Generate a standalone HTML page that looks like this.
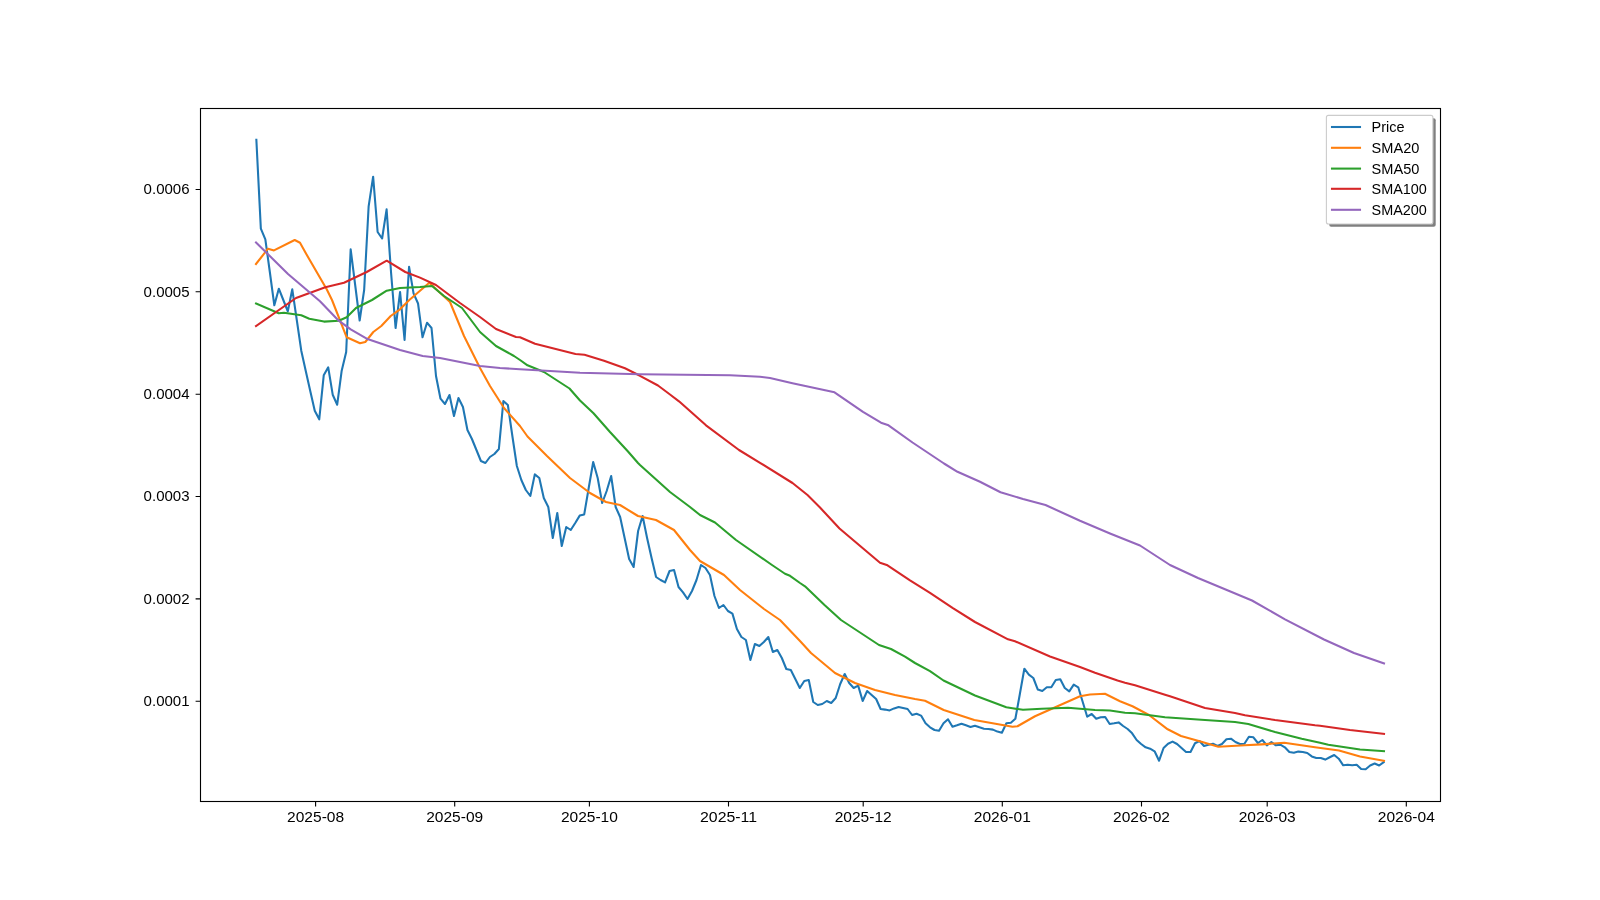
<!DOCTYPE html><html><head><meta charset="utf-8"><style>html,body{margin:0;padding:0;background:#fff;}svg{display:block;} text{filter:grayscale(1)}</style></head><body><svg width="1600" height="900" viewBox="0 0 1600 900">
<rect x="0" y="0" width="1600" height="900" fill="#ffffff"/>
<defs><clipPath id="ax"><rect x="200" y="108" width="1240" height="693"/></clipPath></defs>
<g clip-path="url(#ax)" fill="none" stroke-width="2.08" stroke-linejoin="round" stroke-linecap="square">
<path d="M256.36,139.80 L260.85,228.70 L265.34,239.30 L269.83,272.00 L274.32,305.30 L278.82,288.70 L283.31,300.00 L287.80,311.30 L292.29,289.30 L296.78,320.00 L301.27,350.70 L305.76,371.00 L310.25,391.00 L314.75,410.70 L319.24,419.30 L323.73,375.30 L328.22,367.30 L332.71,394.70 L337.20,404.70 L341.69,370.70 L346.18,352.00 L350.67,249.30 L355.17,285.00 L359.66,320.50 L364.15,290.00 L368.64,206.30 L373.13,176.70 L377.62,232.00 L382.11,238.50 L386.60,209.30 L391.09,273.00 L395.59,328.00 L400.08,292.00 L404.57,340.00 L409.06,266.70 L413.55,293.30 L418.04,303.50 L422.53,337.30 L427.02,322.70 L431.52,328.00 L436.01,376.00 L440.50,398.70 L444.99,404.00 L449.48,395.00 L453.97,416.00 L458.46,398.00 L462.95,407.00 L467.44,430.00 L471.94,439.00 L476.43,450.00 L480.92,461.00 L485.41,463.00 L489.90,457.00 L494.39,454.00 L498.88,449.00 L503.37,401.00 L507.86,405.00 L512.36,436.00 L516.85,466.00 L521.34,480.00 L525.83,490.00 L530.32,496.00 L534.81,474.40 L539.30,478.00 L543.79,498.00 L548.29,507.00 L552.78,538.00 L557.27,513.00 L561.76,546.00 L566.25,527.00 L570.74,530.00 L575.23,523.00 L579.72,515.60 L584.21,514.40 L588.71,488.00 L593.20,462.00 L597.69,478.00 L602.18,503.00 L606.67,491.00 L611.16,476.00 L615.65,507.00 L620.14,517.00 L624.63,538.00 L629.13,559.00 L633.62,567.00 L638.11,531.00 L642.60,516.00 L647.09,538.00 L651.58,558.00 L656.07,577.00 L660.56,580.00 L665.06,582.40 L669.55,571.00 L674.04,570.00 L678.53,587.00 L683.02,592.40 L687.51,599.00 L692.00,591.00 L696.49,580.00 L700.98,565.00 L705.48,568.00 L709.97,575.00 L714.46,596.00 L718.95,608.00 L723.44,605.00 L727.93,611.00 L732.42,613.60 L736.91,629.00 L741.40,637.00 L745.90,640.00 L750.39,660.00 L754.88,644.00 L759.37,646.00 L763.86,642.00 L768.35,637.00 L772.84,652.00 L777.33,650.00 L781.83,658.00 L786.32,669.00 L790.81,670.00 L795.30,679.00 L799.79,688.00 L804.28,681.00 L808.77,680.00 L813.26,702.00 L817.75,705.00 L822.25,704.00 L826.74,701.00 L831.23,703.00 L835.72,698.00 L840.21,684.00 L844.70,674.00 L849.19,683.00 L853.68,688.00 L858.17,685.60 L862.67,701.00 L867.16,691.00 L871.65,695.00 L876.14,699.00 L880.63,709.00 L885.12,709.60 L889.61,710.40 L894.10,708.40 L898.60,707.00 L903.09,708.00 L907.58,709.00 L912.07,715.00 L916.56,713.70 L921.05,715.60 L925.54,723.30 L930.03,727.30 L934.52,730.00 L939.02,730.70 L943.51,723.30 L948.00,719.30 L952.49,726.70 L956.98,725.30 L961.47,723.70 L965.96,725.30 L970.45,727.00 L974.94,725.70 L979.44,727.30 L983.93,728.70 L988.42,729.00 L992.91,729.60 L997.40,731.60 L1001.89,732.70 L1006.38,723.30 L1010.87,722.70 L1015.37,718.70 L1019.86,694.00 L1024.35,668.70 L1028.84,674.70 L1033.33,678.00 L1037.82,689.60 L1042.31,691.00 L1046.80,687.30 L1051.29,687.30 L1055.79,680.00 L1060.28,679.30 L1064.77,688.00 L1069.26,691.30 L1073.75,684.70 L1078.24,687.30 L1082.73,702.00 L1087.22,716.70 L1091.71,714.00 L1096.21,718.70 L1100.70,717.30 L1105.19,717.00 L1109.68,724.00 L1114.17,723.30 L1118.66,722.40 L1123.15,726.00 L1127.64,729.00 L1132.14,733.30 L1136.63,740.00 L1141.12,744.00 L1145.61,747.30 L1150.10,748.70 L1154.59,751.30 L1159.08,760.70 L1163.57,748.00 L1168.06,743.70 L1172.56,741.60 L1177.05,744.00 L1181.54,748.00 L1186.03,752.00 L1190.52,752.00 L1195.01,743.30 L1199.50,741.00 L1203.99,746.00 L1208.48,744.70 L1212.98,743.70 L1217.47,746.00 L1221.96,744.00 L1226.45,739.30 L1230.94,738.70 L1235.43,742.00 L1239.92,744.00 L1244.41,743.70 L1248.91,736.70 L1253.40,737.30 L1257.89,743.00 L1262.38,740.00 L1266.87,745.30 L1271.36,742.00 L1275.85,745.30 L1280.34,744.70 L1284.83,747.30 L1289.33,752.00 L1293.82,752.70 L1298.31,751.60 L1302.80,752.00 L1307.29,753.00 L1311.78,756.40 L1316.27,758.00 L1320.76,758.00 L1325.25,759.60 L1329.75,757.30 L1334.24,755.00 L1338.73,758.70 L1343.22,765.30 L1347.71,764.70 L1352.20,765.30 L1356.69,764.80 L1361.18,769.00 L1365.68,769.20 L1370.17,765.50 L1374.66,763.50 L1379.15,765.50 L1383.64,762.20" stroke="#1f77b4"/>
<path d="M256.00,264.00 L268.00,248.70 L274.00,250.40 L294.70,240.00 L300.00,242.70 L306.70,254.70 L326.70,289.30 L332.00,300.00 L346.70,337.30 L360.00,343.30 L365.30,342.00 L373.30,332.00 L381.30,326.00 L390.70,316.00 L400.00,309.30 L409.30,300.00 L429.30,282.70 L450.00,302.00 L464.00,336.00 L480.00,368.00 L490.00,386.00 L504.00,408.00 L520.00,426.00 L527.50,436.50 L547.00,456.00 L570.00,478.00 L590.00,493.00 L606.00,502.00 L620.00,505.00 L638.00,516.00 L656.00,520.00 L674.00,530.00 L690.00,550.00 L700.00,561.00 L724.00,575.00 L740.00,590.00 L764.00,609.00 L780.00,620.00 L800.00,641.00 L811.00,653.00 L835.00,673.00 L855.00,683.00 L875.00,690.00 L895.00,695.00 L915.00,699.00 L925.00,700.70 L943.70,710.00 L974.30,720.00 L1002.50,725.00 L1012.50,726.75 L1017.50,726.25 L1035.00,716.25 L1080.00,696.25 L1090.00,694.50 L1105.00,693.75 L1120.00,701.25 L1132.50,706.25 L1149.00,715.00 L1167.70,729.30 L1181.00,736.00 L1199.70,741.30 L1218.30,746.70 L1245.00,745.30 L1261.70,744.40 L1284.30,742.70 L1315.00,747.30 L1339.00,750.50 L1360.00,756.50 L1384.00,760.80" stroke="#ff7f0e"/>
<path d="M256.00,303.50 L278.70,313.30 L284.00,312.70 L301.30,315.30 L309.30,318.70 L324.00,321.60 L338.70,320.70 L346.70,317.30 L356.00,308.00 L372.00,300.00 L386.70,290.70 L400.00,288.00 L420.00,287.00 L432.00,286.00 L444.00,296.00 L462.00,308.00 L480.00,332.00 L496.00,346.00 L514.00,356.00 L520.00,360.00 L527.50,365.30 L544.00,372.00 L569.50,388.50 L580.00,400.50 L593.50,413.30 L610.00,432.00 L616.00,438.50 L628.00,451.50 L638.00,463.00 L640.00,465.00 L670.00,492.00 L690.00,507.00 L700.00,515.00 L715.00,522.50 L736.00,540.00 L772.00,565.00 L785.00,573.75 L790.00,575.80 L800.00,583.00 L805.00,586.30 L824.50,605.00 L841.00,620.00 L879.00,645.00 L891.00,649.00 L905.00,656.70 L915.00,663.00 L930.00,671.20 L943.50,680.50 L975.00,695.50 L1006.30,707.30 L1012.50,708.30 L1023.00,709.80 L1041.70,708.70 L1068.00,707.80 L1095.00,710.00 L1110.00,710.50 L1125.00,712.70 L1135.00,713.30 L1165.00,717.30 L1205.00,720.00 L1235.00,722.00 L1248.30,724.00 L1275.00,732.00 L1301.70,738.70 L1320.00,742.80 L1328.30,744.70 L1340.00,746.50 L1355.00,748.70 L1360.00,749.50 L1384.00,751.20" stroke="#2ca02c"/>
<path d="M256.00,326.00 L296.00,298.00 L325.30,287.30 L344.00,282.70 L366.70,272.00 L386.70,260.70 L405.30,272.00 L420.00,277.60 L436.00,285.00 L460.00,303.00 L480.00,317.00 L496.00,329.00 L516.00,337.00 L520.00,337.20 L535.00,343.80 L575.50,354.00 L584.50,354.80 L604.00,360.80 L625.00,368.30 L640.00,375.80 L658.00,385.50 L670.00,394.50 L679.00,401.30 L706.00,425.30 L739.00,450.00 L760.00,462.80 L792.50,483.00 L807.50,495.00 L820.00,507.50 L839.50,528.50 L859.00,545.00 L880.00,562.70 L887.50,565.30 L910.00,580.30 L930.00,592.80 L952.50,607.80 L975.00,622.00 L1008.00,639.30 L1015.00,641.30 L1050.00,656.50 L1080.00,667.00 L1095.00,672.70 L1117.50,680.50 L1125.00,682.70 L1135.00,685.30 L1165.00,694.70 L1170.00,696.30 L1205.00,708.00 L1235.00,713.00 L1245.00,715.30 L1275.00,720.00 L1315.00,725.30 L1320.00,725.80 L1350.00,730.00 L1384.00,733.80" stroke="#d62728"/>
<path d="M256.00,242.40 L288.00,274.00 L320.00,301.30 L338.70,320.70 L350.70,329.30 L366.70,338.70 L400.00,350.00 L422.70,356.00 L440.00,358.00 L460.00,362.00 L480.00,366.00 L500.00,368.00 L520.00,369.30 L580.00,372.80 L640.00,374.30 L730.00,375.30 L760.00,376.80 L770.00,378.00 L792.50,383.30 L834.50,392.30 L863.00,411.80 L881.00,422.70 L888.50,425.30 L912.50,442.50 L944.00,463.50 L957.50,471.80 L980.00,481.80 L1000.50,492.30 L1023.00,499.00 L1045.50,505.00 L1080.00,520.80 L1110.00,533.50 L1140.00,545.50 L1170.00,565.00 L1198.00,578.00 L1225.00,589.30 L1252.00,600.50 L1285.00,619.30 L1324.00,639.50 L1354.00,653.00 L1384.00,663.50" stroke="#9467bd"/>
</g>
<rect x="200.5" y="108.5" width="1240" height="693" fill="none" stroke="#000" stroke-width="1.11" stroke-linejoin="miter"/>
<path d="M315.6,801.5 L315.6,806.4 M454.7,801.5 L454.7,806.4 M589.4,801.5 L589.4,806.4 M728.5,801.5 L728.5,806.4 M863.2,801.5 L863.2,806.4 M1002.3,801.5 L1002.3,806.4 M1141.5,801.5 L1141.5,806.4 M1267.2,801.5 L1267.2,806.4 M1406.3,801.5 L1406.3,806.4 M200.5,701.2 L195.6,701.2 M200.5,598.9 L195.6,598.9 M200.5,496.5 L195.6,496.5 M200.5,394.2 L195.6,394.2 M200.5,291.8 L195.6,291.8 M200.5,189.5 L195.6,189.5" stroke="#000" stroke-width="1.11" fill="none"/>
<g font-family="Liberation Sans, sans-serif" font-size="13.9" fill="#000">
<text x="315.6" y="822" text-anchor="middle" textLength="57" lengthAdjust="spacingAndGlyphs">2025-08</text>
<text x="454.7" y="822" text-anchor="middle" textLength="57" lengthAdjust="spacingAndGlyphs">2025-09</text>
<text x="589.4" y="822" text-anchor="middle" textLength="57" lengthAdjust="spacingAndGlyphs">2025-10</text>
<text x="728.5" y="822" text-anchor="middle" textLength="57" lengthAdjust="spacingAndGlyphs">2025-11</text>
<text x="863.2" y="822" text-anchor="middle" textLength="57" lengthAdjust="spacingAndGlyphs">2025-12</text>
<text x="1002.3" y="822" text-anchor="middle" textLength="57" lengthAdjust="spacingAndGlyphs">2026-01</text>
<text x="1141.5" y="822" text-anchor="middle" textLength="57" lengthAdjust="spacingAndGlyphs">2026-02</text>
<text x="1267.2" y="822" text-anchor="middle" textLength="57" lengthAdjust="spacingAndGlyphs">2026-03</text>
<text x="1406.3" y="822" text-anchor="middle" textLength="57" lengthAdjust="spacingAndGlyphs">2026-04</text>
<text x="189.6" y="706.1" text-anchor="end" textLength="46" lengthAdjust="spacingAndGlyphs">0.0001</text>
<text x="189.6" y="603.8" text-anchor="end" textLength="46" lengthAdjust="spacingAndGlyphs">0.0002</text>
<text x="189.6" y="501.4" text-anchor="end" textLength="46" lengthAdjust="spacingAndGlyphs">0.0003</text>
<text x="189.6" y="399.1" text-anchor="end" textLength="46" lengthAdjust="spacingAndGlyphs">0.0004</text>
<text x="189.6" y="296.7" text-anchor="end" textLength="46" lengthAdjust="spacingAndGlyphs">0.0005</text>
<text x="189.6" y="194.4" text-anchor="end" textLength="46" lengthAdjust="spacingAndGlyphs">0.0006</text>
</g>
<rect x="1329.2" y="118.2" width="106.5" height="108.6" rx="2" fill="#000" fill-opacity="0.5"/>
<rect x="1326.4" y="115.4" width="106.5" height="108.6" rx="2" fill="#fff" stroke="#cccccc" stroke-width="1.11"/>
<g font-family="Liberation Sans, sans-serif" font-size="13.9" fill="#000">
<path d="M1332,127 L1360,127" stroke="#1f77b4" stroke-width="2.08" stroke-linecap="square"/>
<text x="1371.6" y="132.0" textLength="33.0" lengthAdjust="spacingAndGlyphs">Price</text>
<path d="M1332,147.8 L1360,147.8" stroke="#ff7f0e" stroke-width="2.08" stroke-linecap="square"/>
<text x="1371.6" y="152.8" textLength="47.8" lengthAdjust="spacingAndGlyphs">SMA20</text>
<path d="M1332,168.6 L1360,168.6" stroke="#2ca02c" stroke-width="2.08" stroke-linecap="square"/>
<text x="1371.6" y="173.6" textLength="47.8" lengthAdjust="spacingAndGlyphs">SMA50</text>
<path d="M1332,188.8 L1360,188.8" stroke="#d62728" stroke-width="2.08" stroke-linecap="square"/>
<text x="1371.6" y="193.8" textLength="55.3" lengthAdjust="spacingAndGlyphs">SMA100</text>
<path d="M1332,209.8 L1360,209.8" stroke="#9467bd" stroke-width="2.08" stroke-linecap="square"/>
<text x="1371.6" y="214.8" textLength="55.3" lengthAdjust="spacingAndGlyphs">SMA200</text>
</g>
</svg></body></html>
